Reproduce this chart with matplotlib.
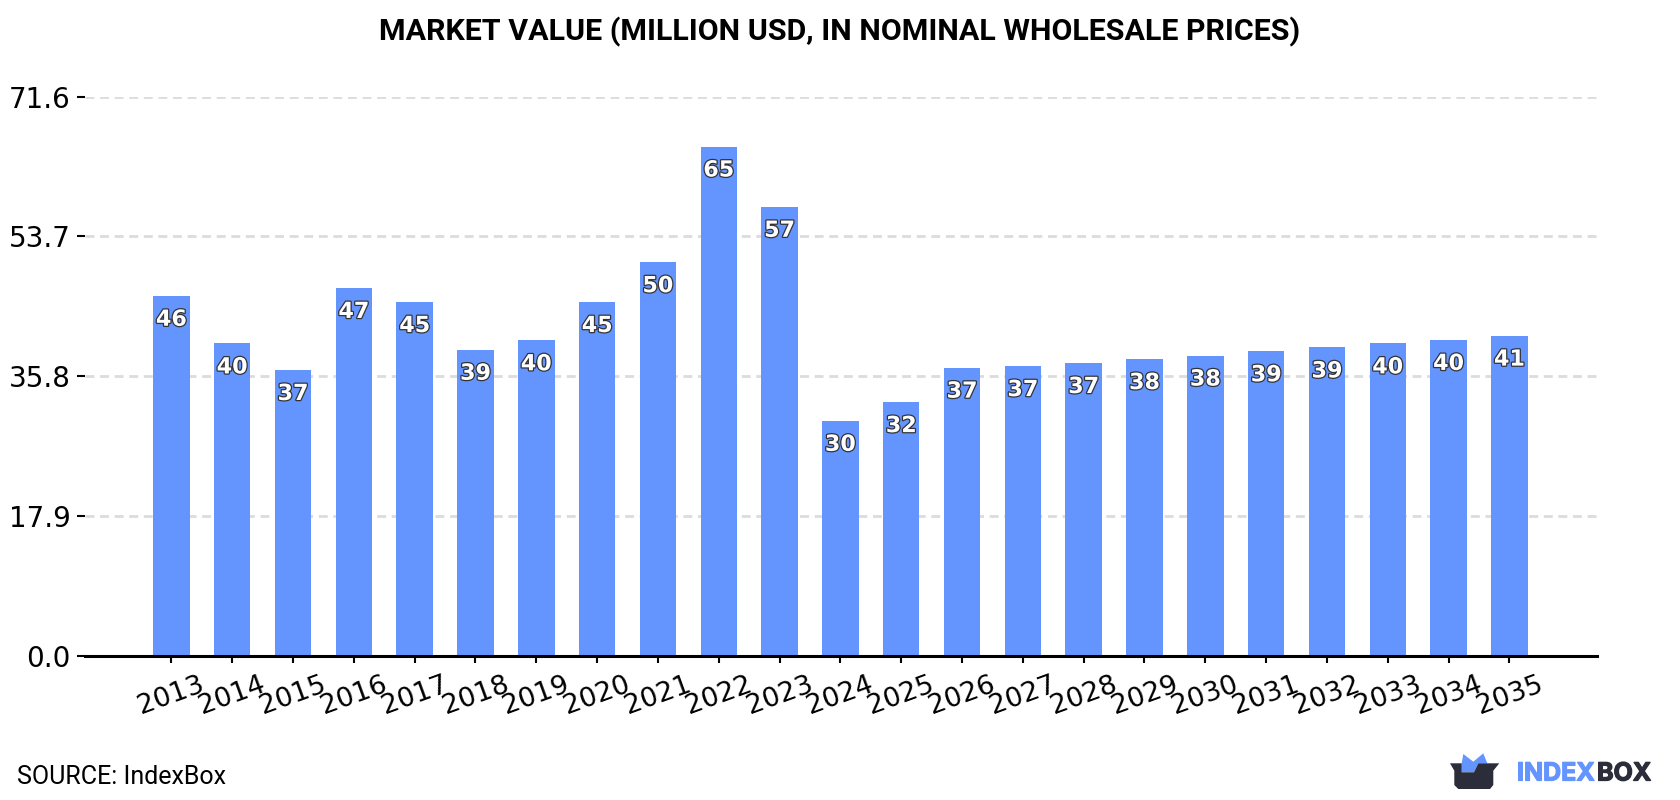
import matplotlib
matplotlib.use('Agg')
import matplotlib.pyplot as plt
import matplotlib.patheffects as pe
from matplotlib.patches import Polygon

years = [2013, 2014, 2015, 2016, 2017, 2018, 2019, 2020, 2021, 2022, 2023, 2024,
         2025, 2026, 2027, 2028, 2029, 2030, 2031, 2032, 2033, 2034, 2035]
values = [46.1, 40.0, 36.6, 47.1, 45.3, 39.2, 40.4, 45.3, 50.4, 65.2, 57.49, 30.1,
          32.49, 36.9, 37.1, 37.49, 38.0, 38.45, 39.0, 39.49, 40.0, 40.45, 41.0]
yticks = [0.0, 17.9, 35.8, 53.7, 71.6]

W, H = 1680, 800
BLUE = '#6495ff'
DARK = '#2b2d3a'

fig = plt.figure(figsize=(W / 100, H / 100), dpi=100, facecolor='white')
ax = fig.add_axes([85 / W, 1 - 656 / H, (1597 - 85) / W, (656 - 96.5) / H])

x = list(range(len(years)))
ax.bar(x, values, width=0.6, color=BLUE, zorder=2)
ax.set_xlim(-1.42, 23.44)
ax.set_ylim(0, 71.6)

ax.set_yticks(yticks)
ax.set_yticklabels(['%.1f' % t for t in yticks])
ax.set_xticks(x)
ax.set_xticklabels(years, rotation=20)
ax.tick_params(axis='y', length=5.8, width=1.5, labelsize=20, pad=4.5, colors='black')
ax.tick_params(axis='x', length=5, width=1.5, labelsize=19.5, pad=6, colors='black')
ax.grid(axis='y', color='#dcdcdc', linestyle=(0, (3.2, 2.05)), linewidth=2, zorder=0)
ax.set_axisbelow(True)

for s in ['top', 'right', 'left']:
    ax.spines[s].set_visible(False)
ax.spines['bottom'].set_linewidth(2.2)
ax.spines['bottom'].set_zorder(3)

# value labels sit just inside the top of each bar
for xi, v in zip(x, values):
    ax.annotate('%d' % round(v), (xi, v), xytext=(0, -24), textcoords='offset pixels',
                ha='center', va='center', fontsize=16, fontweight='bold', color='white',
                family='DejaVu Sans', zorder=4,
                path_effects=[pe.withStroke(linewidth=1.8, foreground='#333333')])

fig.text(0.5, 1 - 32 / H, 'MARKET VALUE (MILLION USD, IN NOMINAL WHOLESALE PRICES)',
         ha='center', va='center', fontsize=21.9, fontweight='bold', family='Roboto', color='black')
fig.text(17 / W, 1 - 777 / H, 'SOURCE: IndexBox', ha='left', va='center',
         fontsize=18, family='Roboto', color='black')

# logo: box with blue ears, pixel coordinates
logo = fig.add_axes([0, 0, 1, 1], facecolor='none')
logo.set_xlim(0, W)
logo.set_ylim(H, 0)
logo.axis('off')
logo.add_patch(Polygon([(1461.7, 772.3), (1461.7, 763.3), (1463.3, 754), (1473.3, 761.7),
                        (1483.3, 753.3), (1487.3, 763.3), (1478.3, 763.3), (1474, 772.3)],
                       closed=True, color=BLUE, lw=0))
logo.add_patch(Polygon([(1450, 763.3), (1461.7, 763.3), (1461.7, 772.3), (1474, 772.3),
                        (1478.3, 763.3), (1499.3, 763.3), (1493.3, 770.7), (1493.3, 785),
                        (1490, 789), (1458.3, 789), (1454.3, 785), (1454.3, 770.7)],
                       closed=True, color=DARK, lw=0))
logo.text(1517, 774, 'INDEX', ha='left', va='center', fontsize=18,
          fontweight='bold', family='Inter', color=BLUE,
          path_effects=[pe.withStroke(linewidth=0.9, foreground=BLUE)])
logo.text(1597, 774, 'BOX', ha='left', va='center', fontsize=18,
          fontweight='bold', family='Inter', color=DARK,
          path_effects=[pe.withStroke(linewidth=0.9, foreground=DARK)])

fig.savefig('out.png', dpi=100)
